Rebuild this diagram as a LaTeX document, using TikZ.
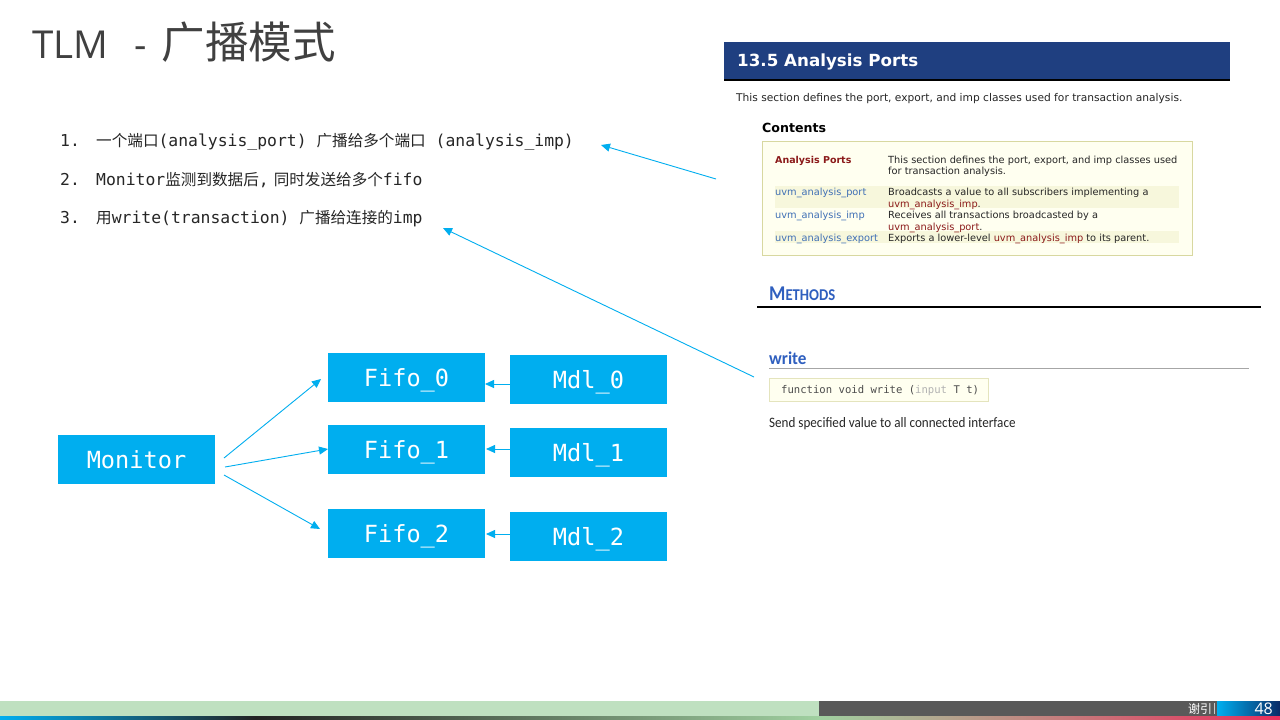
\documentclass[tikz,border=0pt]{standalone}
\usepackage{fontspec}
\usetikzlibrary{arrows.meta}
\setmainfont{DejaVu Sans}
\setmonofont{DejaVu Sans Mono}
\newfontfamily\cjk{Noto Sans CJK SC}
\newfontfamily\titlefont{Open Sans}
\newfontfamily\narrowfont{Carlito}
\newcommand{\fs}[1]{\fontsize{#1}{#1}\selectfont}
\newcommand{\zh}[1]{{\cjk\fs{15.6}#1}}
\definecolor{cyanbox}{HTML}{00AEEF}
\definecolor{banner}{HTML}{1F3F80}
\definecolor{linkblue}{HTML}{3F6FB5}
\definecolor{docred}{HTML}{8B1A1A}
\definecolor{headblue}{HTML}{2F5FBF}
\definecolor{paleyellow}{HTML}{FFFFF0}
\definecolor{stripe}{HTML}{F7F7DC}
\definecolor{boxedge}{HTML}{D8D8A0}
\definecolor{barg}{HTML}{BFE0C0}
\definecolor{barshade}{HTML}{595959}
\definecolor{stripmid}{HTML}{222222}
\definecolor{stripg}{HTML}{A0D0A0}
\definecolor{stripr}{HTML}{E8305C}
\definecolor{navyend}{HTML}{0A2A66}
\tikzset{
  x=1pt,y=-1pt,
  block/.style={rectangle,fill=cyanbox,minimum width=157pt,minimum height=49pt,inner sep=0pt,text=white,text height=18pt,text depth=0pt,font=\ttfamily\fs{23.6}},
  arrowline/.style={draw=cyanbox,line width=0.9pt,-{Triangle[length=9pt,width=8pt]}},
  listline/.style={anchor=base west,inner sep=0pt,text=black!85,font=\ttfamily\fs{16.4}},
  doc/.style={anchor=base west,inner sep=0pt,text=black!85,font=\fs{9.8}},
  link/.style={doc,text=linkblue},
  redlink/.style={doc,text=docred},
}
\begin{document}
\begin{tikzpicture}
\useasboundingbox (0,0) rectangle (1280,720);
\fill[white] (0,0) rectangle (1280,720);
% title
\node[anchor=base west,inner sep=0pt,text=black!75,font=\titlefont\fs{38.5}] (title) at (32,58) {TLM\hspace{26pt}-\hspace{15pt}{\cjk\fs{43.5}广播模式}};
% list
\node[listline] (l1) at (60,146) {1.};
\node[listline] (t1) at (96,146) {\zh{一个端口}(analysis\_port) \zh{广播给多个端口} (analysis\_imp)};
\node[listline] (l2) at (60,185) {2.};
\node[listline] (t2) at (96,185) {Monitor\zh{监测到数据后},\hspace{5pt}\zh{同时发送给多个}fifo};
\node[listline] (l3) at (60,223) {3.};
\node[listline] (t3) at (96,223) {\zh{用}write(transaction) \zh{广播给连接的}imp};
% blocks
\node[block] (mon) at (136.5,459.5) {Monitor};
\node[block] (f0) at (406.5,377.5) {Fifo\_0};
\node[block] (f1) at (406.5,449.5) {Fifo\_1};
\node[block] (f2) at (406.5,533.5) {Fifo\_2};
\node[block] (m0) at (588.5,379) {Mdl\_0};
\node[block] (m1) at (588.5,452.5) {Mdl\_1};
\node[block] (m2) at (588.5,536.5) {Mdl\_2};
% connector ends
\coordinate (a0) at (224,458); \coordinate (b0) at (321,379);
\coordinate (a1) at (225,467); \coordinate (b1) at (328,449);
\coordinate (a2) at (224,475); \coordinate (b2) at (320,529);
\coordinate (c0) at (510,384); \coordinate (d0) at (485,384);
\coordinate (c1) at (510,449); \coordinate (d1) at (486,449);
\coordinate (c2) at (510,534); \coordinate (d2) at (486,534);
\coordinate (e1) at (716,179); \coordinate (g1) at (601,145);
\coordinate (e2) at (754,377); \coordinate (g2) at (443,228);
\draw[arrowline] (a0) -- (b0);
\draw[arrowline] (a1) -- (b1);
\draw[arrowline] (a2) -- (b2);
\draw[arrowline] (c0) -- (d0);
\draw[arrowline] (c1) -- (d1);
\draw[arrowline] (c2) -- (d2);
\draw[arrowline] (e1) -- (g1);
\draw[arrowline] (e2) -- (g2);
% document excerpt
\fill[banner] (724,42) rectangle (1230,79);
\fill[black] (724,79) rectangle (1230,81);
\node[anchor=base west,inner sep=0pt,text=white,font=\bfseries\fs{16.7}] (h) at (737,66) {13.5 Analysis Ports};
\node[doc,font=\fs{10.66}] (intro) at (736,101) {This section defines the port, export, and imp classes used for transaction analysis.};
\node[doc,text=black,font=\bfseries\fs{12.6}] (cont) at (762,132) {Contents};
\draw[draw=boxedge,fill=paleyellow,line width=0.8pt] (762,141) rectangle (1192,255);
\fill[stripe] (775,186) rectangle (1179,208);
\fill[stripe] (775,231) rectangle (1179,243);
\node[doc,text=docred,font=\bfseries\fs{9.5}] (ap) at (775,163) {Analysis Ports};
\node[doc] (d1a) at (888,163) {This section defines the port, export, and imp classes used};
\node[doc] (d1b) at (888,174) {for transaction analysis.};
\node[link] (n1) at (775,195) {uvm\_analysis\_port};
\node[doc] (d2a) at (888,195) {Broadcasts a value to all subscribers implementing a};
\node[redlink] (d2b) at (888,207) {uvm\_analysis\_imp\textcolor{black!85}{.}};
\node[link] (n2) at (775,218) {uvm\_analysis\_imp};
\node[doc] (d3a) at (888,218) {Receives all transactions broadcasted by a};
\node[redlink] (d3b) at (888,230) {uvm\_analysis\_port\textcolor{black!85}{.}};
\node[link] (n3) at (775,241) {uvm\_analysis\_export};
\node[doc] (d4) at (888,241) {Exports a lower-level \textcolor{docred}{uvm\_analysis\_imp} to its parent.};
\node[anchor=base west,inner sep=0pt,text=headblue,font=\narrowfont\bfseries\fs{21}] (meth) at (769,300) {\scalebox{0.89}[1]{M\fs{16.5}ETHODS}};
\draw[black,line width=2pt] (757,306.5) -- (1261,306.5);
\node[anchor=base west,inner sep=0pt,text=headblue,font=\narrowfont\bfseries\fs{18}] (wr) at (769,364) {\scalebox{0.95}[1]{write}};
\draw[black!35,line width=1pt] (769,368) -- (1249,368);
\draw[draw=boxedge!70,fill=paleyellow,line width=0.8pt] (769,378) rectangle (988,401);
\node[anchor=base west,inner sep=0pt,text=black!70,font=\ttfamily\fs{10.6}] (code) at (781,393) {function void write (\textcolor{black!30}{input} T t)};
\node[anchor=base west,inner sep=0pt,text=black!85,font=\narrowfont\fs{14.4}] (send) at (769,427) {\scalebox{0.91}[1]{Send specified value to all connected interface}};
% footer
\fill[barg] (0,701) rectangle (819,716);
\fill[barshade] (819,701) rectangle (1217,716);
\shade[left color=cyanbox,right color=navyend] (1217,701) rectangle (1280,716);
\shade[left color=cyanbox,right color=stripmid] (0,716) rectangle (255,720);
\shade[left color=stripmid,right color=stripg] (255,716) rectangle (819,720);
\shade[left color=stripg,right color=stripr] (819,716) rectangle (1280,720);
\node[anchor=base west,inner sep=0pt,text=white,font=\cjk\fs{12}] (idx) at (1188,713) {谢引};
\draw[white!80!black,line width=0.8pt] (1214,703) -- (1214,714);
\node[anchor=base east,inner sep=0pt,text=white,font=\titlefont\fs{16}] (pg) at (1273,714) {48};
\end{tikzpicture}
\end{document}
